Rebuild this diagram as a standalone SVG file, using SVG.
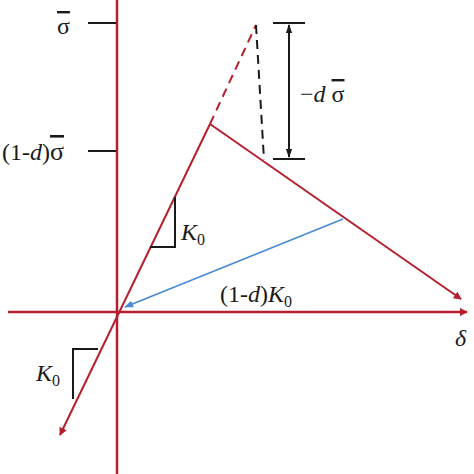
<svg xmlns="http://www.w3.org/2000/svg" width="474" height="474" viewBox="0 0 474 474">
<defs>
<style>
.red{stroke:#b51f2e;stroke-width:2;fill:none}
.axis{stroke:#b51f2e;stroke-width:2.5;fill:none}
.blk{stroke:#1a1a1a;stroke-width:2;fill:none}
.t{font-family:"Liberation Serif","Times New Roman",serif;fill:#1a1a1a;font-size:24px}
.i{font-style:italic}
.sub{font-size:16px}
</style>
<marker id="ar" viewBox="0 0 10 10" refX="9" refY="5" markerWidth="8" markerHeight="8" markerUnits="userSpaceOnUse" orient="auto"><path d="M0,0 L10,5 L0,10 z" fill="#b51f2e"/></marker>
<marker id="ab" viewBox="0 0 10 10" refX="9" refY="5" markerWidth="9" markerHeight="9" markerUnits="userSpaceOnUse" orient="auto"><path d="M0,1 L10,5 L0,9 z" fill="#4a8ad6"/></marker>
<marker id="ak" viewBox="0 0 10 10" refX="9" refY="5" markerWidth="9" markerHeight="9" markerUnits="userSpaceOnUse" orient="auto"><path d="M0,1.5 L10,5 L0,8.5 z" fill="#1a1a1a"/></marker>
</defs>
<rect width="474" height="474" fill="#fff"/>
<g id="axes">
<line class="axis" x1="117" y1="0" x2="117" y2="474"/>
<line class="axis" x1="8" y1="312" x2="467" y2="312" marker-end="url(#ar)"/>
</g>
<g id="connectors">
<line class="red" x1="210" y1="124" x2="60" y2="435" marker-end="url(#ar)"/>
<line class="red" x1="210" y1="124" x2="256" y2="25" stroke-dasharray="9,6"/>
<line class="red" x1="210" y1="124" x2="461" y2="299" marker-end="url(#ar)"/>
<line class="blk" x1="256" y1="25" x2="264" y2="160" stroke-dasharray="9,6"/>
<line x1="343" y1="219" x2="125" y2="307" stroke="#4a8ad6" stroke-width="1.8" marker-end="url(#ab)"/>
</g>
<g id="ticks">
<line class="blk" x1="88" y1="23" x2="116" y2="23"/>
<line class="blk" x1="88" y1="151" x2="116" y2="151"/>
</g>
<g id="dimension">
<line class="blk" x1="273" y1="23" x2="305" y2="23"/>
<line class="blk" x1="273" y1="159" x2="305" y2="159"/>
<line class="blk" x1="289" y1="90" x2="289" y2="25" marker-end="url(#ak)"/>
<line class="blk" x1="289" y1="90" x2="289" y2="157" marker-end="url(#ak)"/>
<text class="t" x="300" y="102" font-size="26">−<tspan class="i">d</tspan> <tspan text-decoration="overline">σ</tspan></text>
</g>
<g id="k0-upper">
<polyline class="blk" points="175,197 175,247 150,247"/>
<text class="t" x="181" y="240"><tspan class="i">K</tspan><tspan class="sub" dy="5">0</tspan></text>
</g>
<g id="k0-lower">
<polyline class="blk" points="98,349 73,349 73,399"/>
<text class="t" x="36" y="381"><tspan class="i">K</tspan><tspan class="sub" dy="5">0</tspan></text>
</g>
<g id="labels">
<text class="t" x="57" y="34" font-size="26" text-decoration="overline">σ</text>
<text class="t" x="2" y="160">(1-<tspan class="i">d</tspan>)<tspan font-size="26" text-decoration="overline">σ</tspan></text>
<text class="t" x="220" y="302">(1-<tspan class="i">d</tspan>)<tspan class="i">K</tspan><tspan class="sub" dy="5">0</tspan></text>
<text class="t i" x="455" y="346" font-size="26">δ</text>
</g>
</svg>
